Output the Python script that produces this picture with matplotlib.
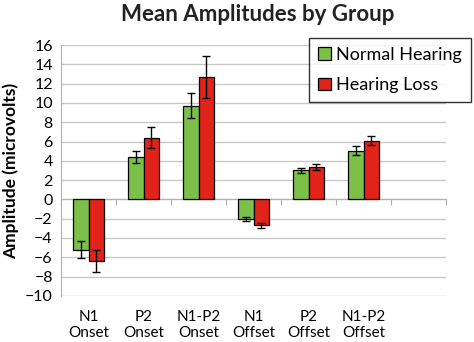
import numpy as np
import matplotlib
matplotlib.use("Agg")
import matplotlib.pyplot as plt

plt.rcParams['font.family'] = ['Lato', 'DejaVu Sans']

categories = ["N1\nOnset", "P2\nOnset", "N1-P2\nOnset", "N1\nOffset", "P2\nOffset", "N1-P2\nOffset"]
normal_mean = [-5.2, 4.4, 9.7, -2.05, 3.0, 5.05]
normal_err = [0.9, 0.6, 1.3, 0.2, 0.3, 0.45]
loss_mean = [-6.35, 6.4, 12.7, -2.7, 3.35, 6.1]
loss_err = [1.15, 1.1, 2.2, 0.3, 0.35, 0.5]

green = '#7cc04a'
red = '#e2231a'

fig = plt.figure(figsize=(4.74, 3.42), dpi=100)
ax = fig.add_axes([0.129, 0.135, 0.812, 0.733])

x = np.arange(len(categories))
w = 0.28
ax.bar(x - w / 2, normal_mean, w, yerr=normal_err, color=green, edgecolor='black',
       linewidth=0.9, capsize=3, error_kw=dict(elinewidth=1, capthick=1), label='Normal Hearing', zorder=3)
ax.bar(x + w / 2, loss_mean, w, yerr=loss_err, color=red, edgecolor='black',
       linewidth=0.9, capsize=3, error_kw=dict(elinewidth=1, capthick=1), label='Hearing Loss', zorder=3)

# one empty slot on the right, like the original sheet
ax.set_xlim(-0.5, len(categories) + 0.5)
ax.set_ylim(-10, 16)
ax.set_yticks(np.arange(-10, 17, 2))
ax.set_yticklabels([str(v).replace('-', '\u2212') for v in range(-10, 17, 2)])
ax.yaxis.grid(True, color='#c8c8c8', linewidth=1, zorder=0)
ax.tick_params(axis='y', length=0, labelsize=11.5, pad=6)

for s in ['top', 'right']:
    ax.spines[s].set_visible(False)
ax.spines['left'].set_color('#b0b0b0')
ax.spines['bottom'].set_position(('data', 0))
ax.spines['bottom'].set_color('#b0b0b0')
ax.spines['bottom'].set_zorder(2)
ax.set_xticks(np.arange(-0.5, len(categories) + 1, 1))
ax.set_xticklabels([])
ax.tick_params(axis='x', length=4, color='#b0b0b0', direction='out')

sec = ax.secondary_xaxis('bottom')
sec.set_xticks(x)
sec.set_xticklabels(categories, fontsize=11, linespacing=1.25)
sec.tick_params(length=0, pad=10)
sec.spines['bottom'].set_visible(False)

ax.set_ylabel('Amplitude (microvolts)', fontsize=12.5, fontweight='bold', labelpad=4)
fig.text(0.543, 0.958, 'Mean Amplitudes by Group', ha='center', va='center',
         fontsize=16, fontweight='bold', color='#222222')

leg = ax.legend(loc='upper right', bbox_to_anchor=(0.994, 0.889), bbox_transform=fig.transFigure,
                fontsize=13, frameon=True, fancybox=False, edgecolor='black',
                handlelength=0.7, handleheight=0.7, handletextpad=0.3, labelspacing=0.8,
                borderpad=0.5, borderaxespad=0)
leg.get_frame().set_linewidth(1)

fig.savefig('out.png', dpi=100)
